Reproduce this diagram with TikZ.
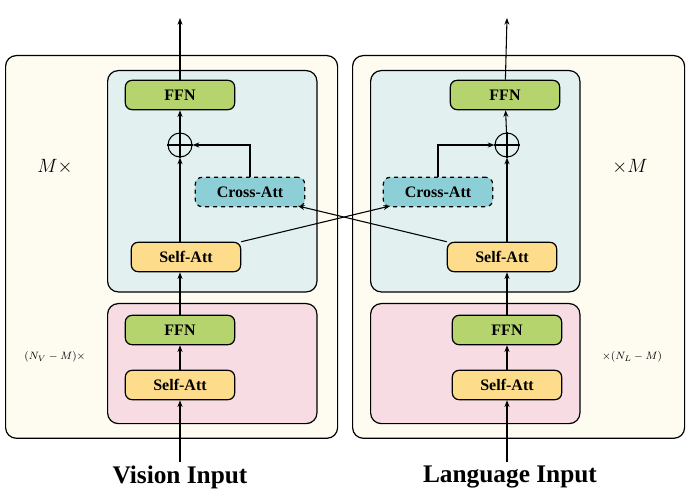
\documentclass[tikz,border=0pt]{standalone}
\usepackage{fontspec}
\setmainfont{Liberation Serif}
\usetikzlibrary{arrows.meta}
\definecolor{cream}{HTML}{FEFBF1}
\definecolor{teal1}{HTML}{E2F0F0}
\definecolor{pink1}{HTML}{F7DCE4}
\definecolor{green1}{HTML}{B5D46E}
\definecolor{yel}{HTML}{FDDC8C}
\definecolor{cyan1}{HTML}{8CCFD6}
\begin{document}
\begin{tikzpicture}[x=0.75pt,y=-0.75pt,
 box/.style={draw,line width=0.9pt,rounded corners=8pt},
 blk/.style={draw,line width=0.9pt,rounded corners=5pt,minimum width=82pt,minimum height=22pt,font=\bfseries\large,inner sep=0pt},
 ffn/.style={blk,fill=green1},
 sa/.style={blk,fill=yel},
 ca/.style={blk,fill=cyan1,dashed},
 arr/.style={-{Stealth[length=5pt]},line width=0.8pt}]
\useasboundingbox (0,0) rectangle (689,495);
\node[box,fill=cream,minimum width=249pt,minimum height=287pt,anchor=north west] (LO) at (5,55) {};
\node[box,fill=cream,minimum width=249pt,minimum height=287pt,anchor=north west] (RO) at (352,55) {};
\node[box,fill=teal1,minimum width=157pt,minimum height=166pt,anchor=north west] (LT) at (107,70) {};
\node[box,fill=teal1,minimum width=157pt,minimum height=166pt,anchor=north west] (RT) at (370,70) {};
\node[box,fill=pink1,minimum width=157pt,minimum height=90pt,anchor=north west] (LP) at (107,303) {};
\node[box,fill=pink1,minimum width=157pt,minimum height=90pt,anchor=north west] (RP) at (370,303) {};
% left
\node[ffn] (lf) at (180,95) {FFN};
\node[draw,circle,line width=0.8pt,minimum size=18pt,inner sep=0pt] (lo) at (180,145) {};
\draw[line width=0.8pt] (lo.north)--(lo.south) (lo.west)--(lo.east);
\node[ca] (lc) at (250,192) {Cross-Att};
\node[sa] (ls) at (186,257) {Self-Att};
\node[ffn] (lf2) at (180,330) {FFN};
\node[sa] (ls2) at (180,385) {Self-Att};
% right
\node[ffn] (rf) at (505,95) {FFN};
\node[draw,circle,line width=0.8pt,minimum size=18pt,inner sep=0pt] (ro) at (507,145) {};
\draw[line width=0.8pt] (ro.north)--(ro.south) (ro.west)--(ro.east);
\node[ca] (rc) at (438,192) {Cross-Att};
\node[sa] (rs) at (502,257) {Self-Att};
\node[ffn] (rf2) at (507,330) {FFN};
\node[sa] (rs2) at (507,385) {Self-Att};
% labels
\node at (55,167) {\Large $M\times$};
\node at (630,167) {\Large $\times M$};
\node at (55,357) {\footnotesize $(N_V-M)\times$};
\node at (632,357) {\footnotesize $\times(N_L-M)$};
\node[font=\bfseries\fontsize{19}{22}\selectfont] (vi) at (180,477) {Vision Input};
\node[font=\bfseries\fontsize{19}{22}\selectfont] (li) at (510,477) {Language Input};
\coordinate (lt) at (180,18); \coordinate (rt) at (507,18);
\coordinate (lb) at (180,462); \coordinate (rb) at (507,462);
% left arrows
\draw[arr] (lb)--(ls2);
\draw[arr] (ls2)--(lf2);
\draw[arr] (lf2)--(ls.south -| lf2);
\draw[arr] (ls.north -| lo)--(lo);
\draw[arr] (lo)--(lf);
\draw[arr] (lf)--(lt);
\draw[arr] (lc.north)|-(lo.east);
% right arrows
\draw[arr] (rb)--(rs2);
\draw[arr] (rs2)--(rf2);
\draw[arr] (rf2)--(rs.south -| rf2);
\draw[arr] (rs.north -| ro)--(ro);
\draw[arr] (ro)--(rf);
\draw[arr] (rf)--(rt);
\draw[arr] (rc.north)|-(ro.west);
% cross
\draw[arr] (ls.north east)--(390,206);
\draw[arr] (rs.north west)--(298,206);
\end{tikzpicture}
\end{document}
